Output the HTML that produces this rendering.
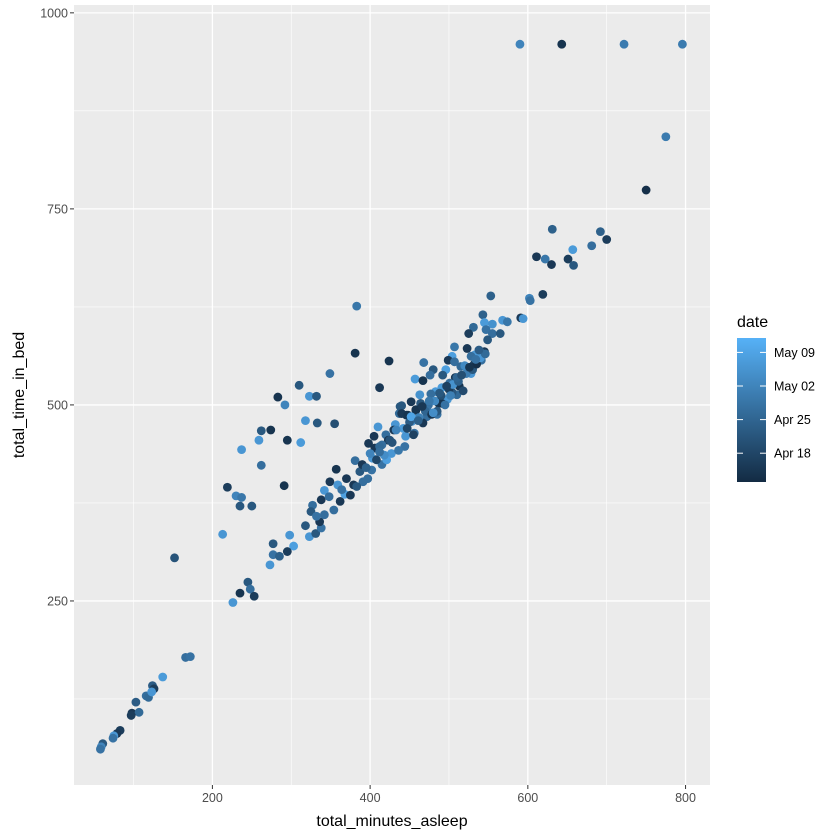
<!DOCTYPE html>
<html><head><meta charset="utf-8">
<style>
html,body{margin:0;padding:0;background:#fff;}
svg{display:block;font-family:"Liberation Sans",sans-serif;}
</style></head>
<body>
<svg id="chart" width="840" height="840" viewBox="0 0 840 840">
  <rect x="0" y="0" width="840" height="840" fill="#fff"/>
  <rect id="panel" x="74" y="5" width="636" height="780" fill="#EBEBEB"/>
  <g id="grid"></g>
  <g id="points"></g>
  <g id="axes"></g>
  <text x="392" y="826" font-size="16" text-anchor="middle" fill="#000">total_minutes_asleep</text>
  <text x="0" y="0" font-size="16" text-anchor="middle" fill="#000" transform="translate(24,395) rotate(-90)">total_time_in_bed</text>
  <g id="legend">
    <text x="737" y="327" font-size="16" fill="#000">date</text>
    <defs>
      <linearGradient id="grad" x1="0" y1="1" x2="0" y2="0">
        <stop offset="0" stop-color="#132B43"/>
        <stop offset="1" stop-color="#56B1F7"/>
      </linearGradient>
    </defs>
    <rect x="737" y="338" width="29" height="144" fill="url(#grad)"/>
    <g id="legendTicks"></g>
  </g>
</svg>
<script>
// data: total_minutes_asleep, total_time_in_bed, day offset from Apr 12
const asleep = [590,643,722,796,775,750,631,692,700,681,657,611,622,651,630,658,553,619,602,603,383,543,591,594,568,574,545,555,531,547,555,525,565,549,507,523,545,533,539,504,528,381,424,468,499,507,541,532,515,496,480,523,528,476,492,508,457,467,513,501,349,310,412,491,483,510,504,463,477,283,323,332,292,452,464,487,498,440,474,458,437,446,472,485,
318,333,355,262,274,259,295,312,237,262,219,291,230,237,235,250,213,152,298,277,303,295,277,285,273,245,248,235,253,226,166,172,137,124,126,116,119,123,103,98,107,97,83,79,75,74,61,59,58,
318,323,327,325,331,338,338,342,336,342,349,357,354,359,362,368,375,370,379,381,387,390,397,402,398,405,410,406,403,415,420,423,427,432,438,440,445,444,448,453,456,458,467,472,485,491,421,415,391,383,364,348,332,
395,400,408,412,418,425,430,436,442,450,455,462,470,478,482,490,495,500,505,512,518,522,530,535,540,546,412,428,433,447,452,461,466,475,480,488,497,502,510,516,520,526,534,538];
const inBed = [960,960,960,960,842,774,724,721,711,703,698,689,686,686,679,678,639,641,636,633,626,615,611,610,608,606,605,603,599,596,591,591,591,583,574,572,568,564,568,562,562,566,556,554,557,555,557,552,549,545,545,547,540,538,538,535,533,531,524,528,540,525,522,522,517,513,516,513,514,510,511,511,500,504,502,502,507,499,500,493,489,487,485,488,
480,477,476,467,468,455,455,452,443,423,395,397,384,382,371,371,335,305,334,323,320,313,309,307,296,274,265,260,256,248,178,179,153,142,138,129,127,134,121,107,108,104,85,81,78,75,68,64,61,
346,332,372,364,336,343,379,391,351,360,402,418,366,398,377,386,385,406,398,429,415,424,406,417,451,460,472,445,432,424,462,455,438,475,498,489,460,447,487,479,464,494,477,494,492,502,430,449,402,396,392,383,358,
420,438,430,447,436,455,468,442,470,478,462,484,492,488,505,512,500,520,526,530,518,540,545,552,560,565,440,452,468,470,485,480,498,505,490,515,524,512,535,538,550,548,558,570];
const dayIdx = [20,2,18,18,18,1,12,12,4,15,25,3,17,4,3,10,12,4,20,16,17,12,3,24,24,17,25,23,14,16,15,4,10,10,17,3,3,24,24,26,15,2,2,16,3,15,15,5,14,26,10,16,24,15,10,3,25,2,2,15,16,10,3,25,25,14,10,23,15,2,24,10,20,3,10,2,24,10,15,2,14,2,15,16,
24,10,8,10,2,24,2,25,24,15,4,2,20,17,10,10,24,9,24,10,26,4,16,12,24,10,15,2,4,24,15,16,25,11,4,15,14,24,11,3,14,4,4,3,24,16,10,20,16,
10,24,15,10,10,16,3,24,3,15,3,2,15,24,3,26,3,3,3,15,10,3,15,16,3,3,24,3,24,16,15,3,24,24,10,3,24,16,2,24,16,2,3,16,10,2,26,15,15,10,16,15,16,
12,20,6,14,22,9,3,17,25,11,5,19,13,2,21,8,16,4,23,12,7,18,10,1,24,14,15,9,20,6,27,12,3,17,22,10,5,19,13,8,21,2,16,11];
const xTicks = [200,400,600,800];
const xMinor = [100,300,500,700];
const yTicks = [250,500,750,1000];
const yMinor = [125,375,625,875];
const legendLabels = ["Apr 18","Apr 25","May 02","May 09"];
const legendDays = [6,13,20,27];

const NS = "http://www.w3.org/2000/svg";
const PL=74, PR=710, PT=5, PB=785;
const XMIN=24.5, XMAX=831, YMIN=15.3, YMAX=1010;
const DMIN=0, DMAX=30;
function xs(v){return PL+(v-XMIN)/(XMAX-XMIN)*(PR-PL);}
function ys(v){return PB-(v-YMIN)/(YMAX-YMIN)*(PB-PT);}
function col(d){
  const t=Math.max(0,Math.min(1,(d-DMIN)/(DMAX-DMIN)));
  const a=[0x13,0x2B,0x43], b=[0x56,0xB1,0xF7];
  return "rgb("+a.map((c,i)=>Math.round(c+(b[i]-c)*t)).join(",")+")";
}
function mk(tag,attrs,parent){const e=document.createElementNS(NS,tag);for(const k in attrs)e.setAttribute(k,attrs[k]);parent.appendChild(e);return e;}

const grid=document.getElementById("grid");
xMinor.forEach(v=>{const l=mk("line",{x1:xs(v),x2:xs(v),y1:PT,y2:PB,stroke:"#fff","stroke-width":0.6},grid);

});
yMinor.forEach(v=>{const l=mk("line",{x1:PL,x2:PR,y1:ys(v),y2:ys(v),stroke:"#fff","stroke-width":0.6},grid);

});
xTicks.forEach(v=>{const l=mk("line",{x1:xs(v),x2:xs(v),y1:PT,y2:PB,stroke:"#fff","stroke-width":1.3},grid);

});
yTicks.forEach(v=>{const l=mk("line",{x1:PL,x2:PR,y1:ys(v),y2:ys(v),stroke:"#fff","stroke-width":1.3},grid);

});

const pts=document.getElementById("points");
for(let i=0;i<asleep.length;i++){
  const c=mk("circle",{cx:xs(asleep[i]),cy:ys(inBed[i]),r:4.4,fill:col(dayIdx[i])},pts);
  
  
}

const axes=document.getElementById("axes");
xTicks.forEach(v=>{
  const t=mk("line",{x1:xs(v),x2:xs(v),y1:PB,y2:PB+4,stroke:"#333","stroke-width":1},axes);
  
  
  const tx=mk("text",{x:xs(v),y:PB+17,"font-size":12.5,"text-anchor":"middle",fill:"#4D4D4D"},axes);
  tx.textContent=v;
  
  
});
yTicks.forEach(v=>{
  const t=mk("line",{x1:PL-4,x2:PL,y1:ys(v),y2:ys(v),stroke:"#333","stroke-width":1},axes);
  
  
  const tx=mk("text",{x:PL-6,y:ys(v)+4.5,"font-size":12.5,"text-anchor":"end",fill:"#4D4D4D"},axes);
  tx.textContent=v;
  
  
});

const lt=document.getElementById("legendTicks");
function ly(d){return 482-(d-DMIN)/(DMAX-DMIN)*144;}
legendLabels.forEach((lab,i)=>{
  const y=ly(legendDays[i]);
  const a=mk("line",{x1:737,x2:743,y1:y,y2:y,stroke:"#fff","stroke-width":1},lt);
  
  
  const b=mk("line",{x1:760,x2:766,y1:y,y2:y,stroke:"#fff","stroke-width":1},lt);
  
  
  const tx=mk("text",{x:774,y:y+4.5,"font-size":12.5,fill:"#000"},lt);
  tx.textContent=lab;
  
  
});
</script>
</body></html>
